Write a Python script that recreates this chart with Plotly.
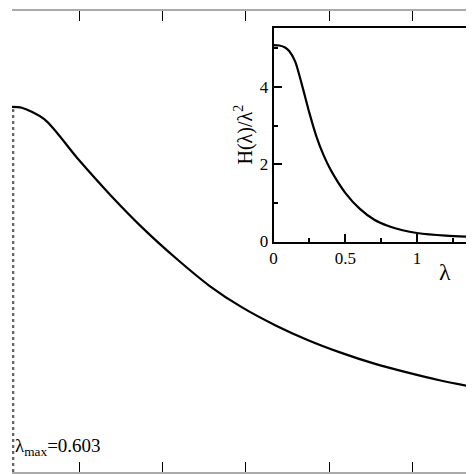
import plotly.graph_objects as go

# main curve (lambda, value)
main_lam = [0.598, 0.657, 0.793, 0.994, 1.190, 1.385, 1.586, 1.781, 1.977, 2.178, 2.373, 2.568, 2.770, 2.965, 3.160, 3.397]
main_val = [0.792, 0.790, 0.765, 0.679, 0.600, 0.528, 0.462, 0.404, 0.357, 0.318, 0.286, 0.259, 0.235, 0.216, 0.199, 0.182]
lam_max = 0.603
peak_val = 0.792

# inset curve H(lambda)/lambda^2
ins_lam = [0.0, 0.04, 0.08, 0.11, 0.15, 0.2, 0.25, 0.3, 0.35, 0.4, 0.5, 0.6, 0.7, 0.8, 0.9, 1.0, 1.2, 1.44]
ins_val = [5.08, 5.07, 5.02, 4.92, 4.66, 4.02, 3.32, 2.70, 2.22, 1.84, 1.26, 0.85, 0.57, 0.40, 0.29, 0.22, 0.15, 0.11]

serif = "Liberation Serif"
fig = go.Figure()
fig.add_trace(go.Scatter(x=main_lam, y=main_val, mode="lines", line=dict(color="black", width=2.2, shape="spline", smoothing=0.8), xaxis="x", yaxis="y"))
fig.add_trace(go.Scatter(x=[lam_max, lam_max], y=[0, peak_val], mode="lines", line=dict(color="#666", width=3, dash="dot"), xaxis="x", yaxis="y"))
fig.add_trace(go.Scatter(x=ins_lam, y=ins_val, mode="lines", line=dict(color="black", width=2.2, shape="spline", smoothing=0.8), xaxis="x2", yaxis="y2"))

fig.add_annotation(x=lam_max, y=0.055, xref="x", yref="y", xanchor="left", showarrow=False,
                   text="λ<sub>max</sub>=0.603", font=dict(family=serif, size=19, color="black"))
fig.add_annotation(x=447/474, y=(471-268)/468, xref="paper", yref="paper", text="λ", showarrow=False,
                   font=dict(family=serif, size=24, color="black"))

fig.update_layout(
    width=474, height=474, margin=dict(l=0, r=0, t=3, b=3),
    paper_bgcolor="white", plot_bgcolor="white", showlegend=False,
    xaxis=dict(range=[0.598, 3.403], showgrid=False, zeroline=False, showline=True, linecolor="#aaa", linewidth=2,
               mirror="allticks", ticks="inside", ticklen=10, tickcolor="black", tick0=1.0, dtick=0.5,
               showticklabels=False),
    yaxis=dict(range=[0, 1], showgrid=False, zeroline=False, showline=False, showticklabels=False),
    xaxis2=dict(domain=[0.559, 1.0], anchor="y2", range=[0, 1.44], showgrid=False, zeroline=False,
                showline=True, linecolor="black", linewidth=2, mirror=True, ticks="inside", ticklen=8,
                tickcolor="black", tickwidth=1.5, tickvals=[0, 0.5, 1], ticktext=["0", "0.5", "1"],
                minor=dict(ticks="inside", ticklen=4, tickvals=[0.25, 0.75, 1.25], tickcolor="black"),
                tickfont=dict(family=serif, size=17, color="black")),
    yaxis2=dict(domain=[0.5, 0.9637], anchor="x2", range=[0, 5.53], showgrid=False, zeroline=False,
                showline=True, linecolor="black", linewidth=2, mirror=True, ticks="inside", ticklen=8,
                tickcolor="black", tickwidth=1.5, tickvals=[0, 2, 4], ticktext=["0", "2", "4"],
                minor=dict(ticks="inside", ticklen=4, tickvals=[1, 3, 5], tickcolor="black"),
                tickfont=dict(family=serif, size=17, color="black"),
                title=dict(text="H(λ)/λ<sup>2</sup>", font=dict(family=serif, size=20, color="black"), standoff=2)),
)
fig.write_html("out.html")
